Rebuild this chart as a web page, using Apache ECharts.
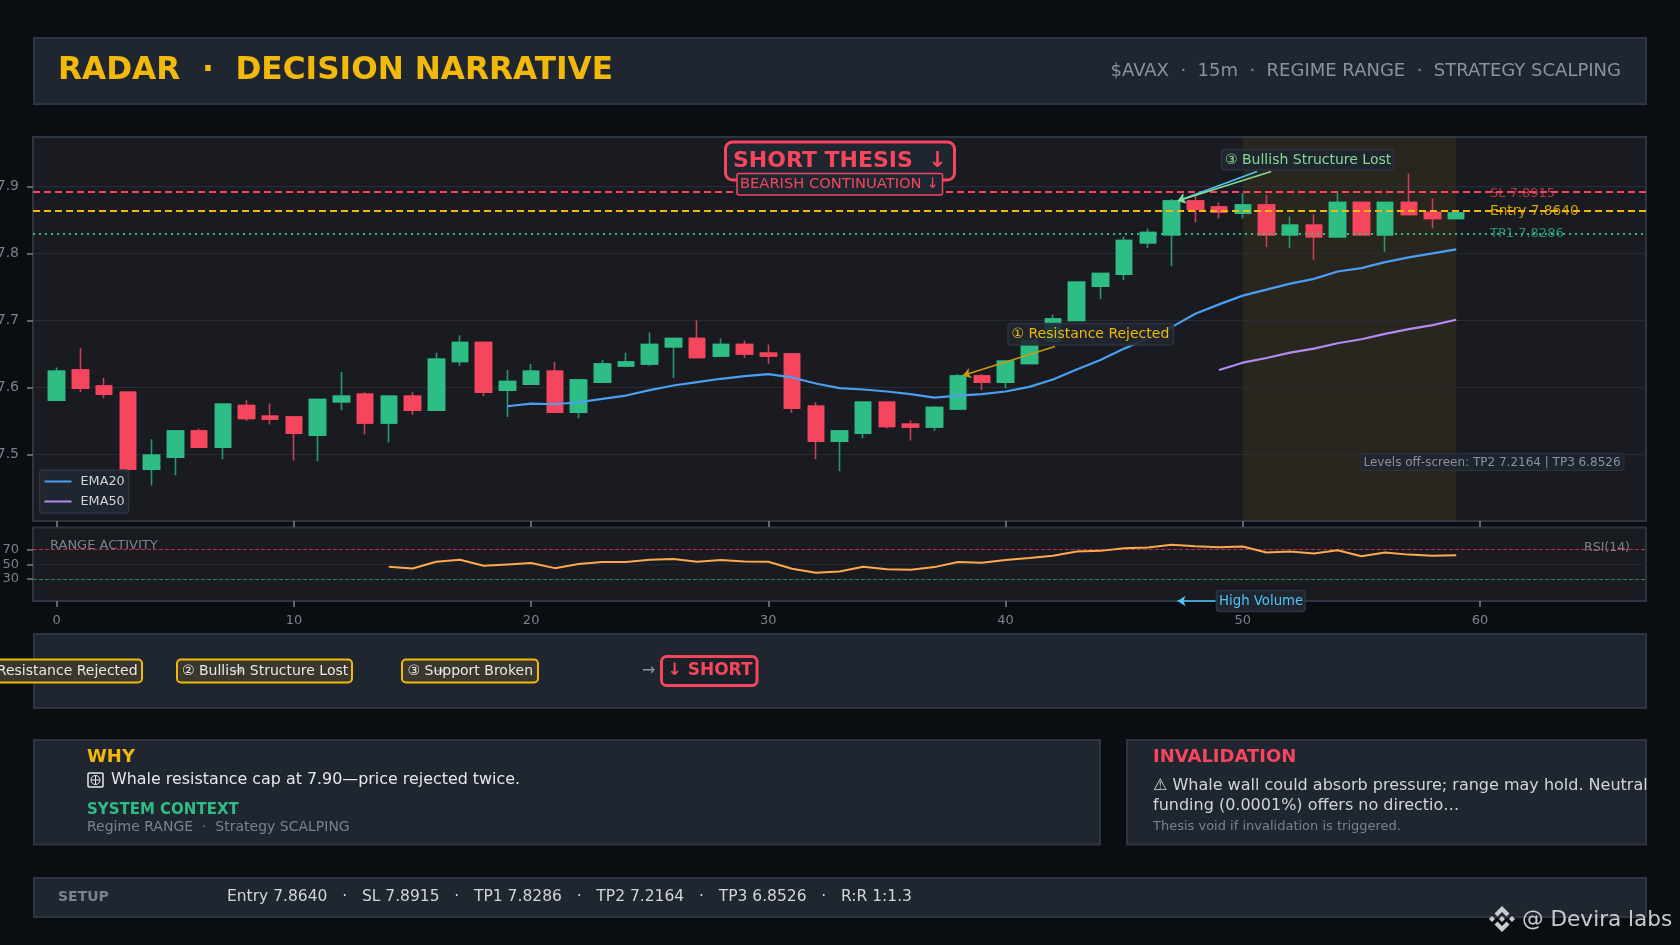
<!DOCTYPE html>
<html>
<head>
<meta charset="utf-8">
<style>html,body{margin:0;padding:0;background:#0a0e12;overflow:hidden}#c{width:1680px;height:945px}</style>
<script src="https://cdn.jsdelivr.net/npm/echarts@6/dist/echarts.min.js"></script>
</head>
<body>
<div id="c"></div>
<script>
// ---- data ----
const opens  = [7.581,7.626,7.602,7.593,7.478,7.496,7.535,7.511,7.573,7.557,7.556,7.529,7.579,7.590,7.547,7.587,7.566,7.639,7.667,7.596,7.605,7.624,7.563,7.608,7.632,7.635,7.661,7.673,7.647,7.664,7.651,7.650,7.572,7.520,7.532,7.578,7.545,7.541,7.568,7.617,7.608,7.636,7.669,7.700,7.751,7.769,7.816,7.828,7.878,7.869,7.860,7.872,7.828,7.842,7.825,7.876,7.828,7.876,7.861,7.852];
const closes = [7.624,7.599,7.590,7.478,7.499,7.535,7.511,7.575,7.554,7.553,7.532,7.582,7.587,7.547,7.587,7.566,7.642,7.667,7.593,7.609,7.624,7.563,7.611,7.635,7.638,7.664,7.673,7.645,7.664,7.650,7.647,7.569,7.520,7.535,7.578,7.542,7.541,7.570,7.617,7.608,7.639,7.670,7.702,7.757,7.770,7.819,7.831,7.878,7.866,7.862,7.872,7.828,7.842,7.825,7.876,7.828,7.876,7.858,7.852,7.860];
const lows   = [7.581,7.593,7.584,7.469,7.454,7.469,7.511,7.493,7.550,7.545,7.491,7.490,7.566,7.530,7.518,7.559,7.566,7.632,7.587,7.556,7.605,7.563,7.554,7.608,7.632,7.632,7.614,7.645,7.647,7.644,7.635,7.562,7.493,7.475,7.524,7.539,7.521,7.535,7.568,7.596,7.599,7.636,7.669,7.699,7.732,7.760,7.808,7.781,7.846,7.852,7.852,7.809,7.808,7.790,7.825,7.828,7.802,7.858,7.837,7.852];
const highs  = [7.630,7.659,7.614,7.593,7.523,7.535,7.539,7.575,7.581,7.576,7.556,7.582,7.623,7.593,7.587,7.593,7.652,7.678,7.667,7.626,7.635,7.638,7.611,7.641,7.652,7.682,7.673,7.700,7.673,7.670,7.664,7.651,7.578,7.535,7.579,7.578,7.551,7.572,7.620,7.620,7.639,7.670,7.709,7.757,7.770,7.825,7.837,7.881,7.887,7.876,7.890,7.887,7.855,7.858,7.890,7.876,7.876,7.919,7.882,7.860];
const ema20Start = 19;
const ema20 = [7.572,7.576,7.575,7.578,7.583,7.588,7.596,7.603,7.608,7.613,7.617,7.620,7.615,7.606,7.599,7.597,7.594,7.590,7.585,7.588,7.590,7.594,7.601,7.612,7.627,7.641,7.658,7.673,7.690,7.710,7.724,7.737,7.746,7.755,7.762,7.773,7.778,7.787,7.794,7.800,7.806];
const ema50Start = 49;
const ema50 = [7.626,7.637,7.644,7.652,7.658,7.666,7.672,7.680,7.687,7.693,7.701];
const rsiStart = 14;
const rsi = [46.6,44.3,53.4,56.2,47.9,49.8,51.6,44.7,50.2,53.0,53.0,56.2,57.1,53.4,55.7,53.9,53.4,43.8,38.3,40.1,46.6,43.3,42.4,46.1,53.0,52.1,55.7,58.5,61.7,67.2,68.2,71.8,72.8,76.4,74.6,73.2,74.1,65.9,67.2,64.5,69.1,60.8,65.9,63.1,61.7,62.2];
const xTicks = [0,10,20,30,40,50,60];
const priceTicks = [7.5,7.6,7.7,7.8,7.9];
const rsiTicks = [30,50,70];
const SL = 7.8915, ENTRY = 7.8640, TP1 = 7.8286;

// ---- palette ----
const GREEN='#2ebd85', RED='#f6465d', GOLD='#f0b90b', CYAN='#4fc3f7', LIME='#86d993';
const PANEL='#202630', EDGE='#2e3542', PLOT='#191b21', MUTED='#7b828c', FONT='"DejaVu Sans"';

const xs = opens.map((_,i)=>i);
const candleData = xs.map(i=>[i,opens[i],closes[i],lows[i],highs[i]]);
const bodyData = xs.map(i=>[i,opens[i],closes[i],Math.min(opens[i],closes[i]),Math.max(opens[i],closes[i])]);
const from = (arr,start)=>arr.map((v,i)=>[start+i,v]);

function panel(x,y,w,h){return {type:'rect',z:1,shape:{x:x+1,y:y+1,width:w-2,height:h-2},style:{fill:PANEL,stroke:EDGE,lineWidth:2}};}
function txt(t,x,y,size,fill,o){o=o||{};return {type:'text',z:o.z||10,x:x,y:y+1.2,style:{text:t,fill:fill,font:(o.bold?'bold ':'')+size+'px '+FONT,align:o.align||'left',verticalAlign:'middle',opacity:o.opacity==null?1:o.opacity}};}
function box(x,y,w,h,fill,stroke,lw,r,z,op){return {type:'rect',z:z||9,shape:{x:x,y:y,width:w,height:h,r:r||0},style:{fill:fill,stroke:stroke,lineWidth:lw,opacity:op==null?1:op}};}
function poly(pts,z){return {type:'polygon',z:z||20,shape:{points:pts},style:{fill:'#c9ccd1'}};}

const lx=1502, ly=919; // watermark logo centre
const graphics = [
  panel(33,37,1614,68),
  txt('RADAR  ·  DECISION NARRATIVE',58,69.5,31.2,GOLD,{bold:true}),
  txt('$AVAX  ·  15m  ·  REGIME RANGE  ·  STRATEGY SCALPING',1621,70.5,18,'#8b929c',{align:'right'}),
  // chips panel
  panel(33,633,1614,76),
  box(-70,659.5,212,23,'#3a382c',GOLD,2,4),
  txt('① Resistance Rejected',137.6,670,14,'#e5e7eb',{align:'right'}),
  box(177,659.5,175,23,'#3a382c',GOLD,2,4),
  txt('② Bullish Structure Lost',182,670,14,'#e5e7eb'),
  txt('→',232,670,13,'#9aa0a8',{z:9}),
  box(402,659.5,136,23,'#3a382c',GOLD,2,4),
  txt('③ Support Broken',407.5,670,14,'#e5e7eb'),
  txt('→',433,670,13,'#9aa0a8',{z:9}),
  txt('→',642,670,16,'#8b929c'),
  box(661.5,656.5,95.5,29,'#1b2029',RED,3,5),
  txt('↓ SHORT',667.5,669.5,17,RED,{bold:true}),
  // why
  panel(33,739,1068,106.5),
  txt('WHY',87,756.5,18,GOLD,{bold:true}),
  box(88,773,15,14,'#202630','#e5e7eb',1.5,1),
  {type:'circle',z:11,shape:{cx:95.5,cy:780,r:4.5},style:{fill:'none',stroke:'#e5e7eb',lineWidth:1}},
  {type:'line',z:11,shape:{x1:91,y1:780,x2:100,y2:780},style:{stroke:'#e5e7eb',lineWidth:1}},
  {type:'line',z:11,shape:{x1:95.5,y1:775.5,x2:95.5,y2:784.5},style:{stroke:'#e5e7eb',lineWidth:1}},
  txt('Whale resistance cap at 7.90—price rejected twice.',111,778.5,15.9,'#e5e7eb'),
  txt('SYSTEM CONTEXT',87,809,15,GREEN,{bold:true}),
  txt('Regime RANGE  ·  Strategy SCALPING',87,826,14,MUTED),
  // invalidation
  panel(1126,739,521,106.5),
  txt('INVALIDATION',1153,756.5,18,RED,{bold:true}),
  txt('⚠ Whale wall could absorb pressure; range may hold. Neutral',1153,785,16,'#d1d4dc'),
  txt('funding (0.0001%) offers no directio…',1153,804.5,16,'#d1d4dc'),
  txt('Thesis void if invalidation is triggered.',1153,825.5,13,MUTED),
  // setup
  panel(33,877,1614,41),
  txt('SETUP',58,896,14,MUTED,{bold:true}),
  txt('Entry 7.8640   ·   SL 7.8915   ·   TP1 7.8286   ·   TP2 7.2164   ·   TP3 6.8526   ·   R:R 1:1.3',227,896,15.5,'#d1d4dc'),
  // watermark
  poly([[lx,ly-13],[lx+7.5,ly-5.5],[lx+4.5,ly-2.5],[lx,ly-7],[lx-4.5,ly-2.5],[lx-7.5,ly-5.5]]),
  poly([[lx,ly+13],[lx+7.5,ly+5.5],[lx+4.5,ly+2.5],[lx,ly+7],[lx-4.5,ly+2.5],[lx-7.5,ly+5.5]]),
  poly([[lx,ly-3],[lx+3,ly],[lx,ly+3],[lx-3,ly]]),
  poly([[lx-10,ly-3],[lx-7,ly],[lx-10,ly+3],[lx-13,ly]]),
  poly([[lx+10,ly-3],[lx+13,ly],[lx+10,ly+3],[lx+7,ly]]),
  txt('@ Devira labs',1522,919.5,21.6,'#c9ccd1',{z:20}),
  // chart annotations
  box(725.5,142,229,38,PANEL,RED,3,7,30),
  txt('SHORT THESIS  ↓',733,160,22,RED,{bold:true,z:31}),
  box(737,173.5,205.5,21.5,PANEL,RED,1.5,2,32),
  txt('BEARISH CONTINUATION ↓',740,182.5,14.7,RED,{z:33}),
  box(1008,323.5,165.5,21.5,PANEL,EDGE,1.5,3,30,0.88),
  txt('① Resistance Rejected',1011.5,333.5,14,GOLD,{z:31}),
  box(1221.5,149.5,172,20.5,PANEL,EDGE,1.5,3,30,0.88),
  txt('③ Bullish Structure Lost',1225,159,14,LIME,{z:31}),
  box(1216.5,590.5,88.5,21,PANEL,EDGE,1.5,3,30),
  txt('High Volume',1219,600.5,13.3,CYAN,{z:31}),
  box(1361,453.5,263,17,PANEL,EDGE,1,2,30,0.85),
  txt('Levels off-screen: TP2 7.2164 | TP3 6.8526',1363.5,461.5,12,'#8b929c',{z:31}),
  txt('SL 7.8915',1490,192,13,RED,{z:1,opacity:.7}),
  txt('Entry 7.8640',1490,210,13.7,GOLD,{z:1,opacity:.85}),
  txt('TP1 7.8286',1490,232.5,13,GREEN,{z:1,opacity:.75}),
  txt('RANGE ACTIVITY',50,544,13,MUTED,{z:31}),
  txt('RSI(14)',1630,547,12.5,MUTED,{align:'right',z:31})
];

function levelLine(v,color,type,w){return {yAxis:v,lineStyle:{color:color,type:type,width:w}};}
function arrow(x1,y1,x2,y2,color){return [{coord:[x1,y1],symbol:'none',lineStyle:{color:color,width:1.6,type:'solid'}},{coord:[x2,y2],symbol:'arrow',symbolSize:8}];}

const option = {
  backgroundColor:'#0a0e12',
  animation:false,
  textStyle:{fontFamily:FONT},
  grid:[
    {left:33,top:137,width:1613,height:384,show:true,outerBoundsMode:'none',containLabel:false,backgroundColor:PLOT,borderColor:EDGE,borderWidth:2},
    {left:33,top:527.5,width:1613,height:73.5,show:true,outerBoundsMode:'none',containLabel:false,backgroundColor:PLOT,borderColor:EDGE,borderWidth:2}
  ],
  xAxis:[
    {type:'value',gridIndex:0,min:-1,max:67,splitLine:{show:false},axisLine:{show:false,onZero:false},
     axisTick:{length:6,lineStyle:{color:MUTED,width:1.5},customValues:xTicks},axisLabel:{show:false}},
    {type:'value',gridIndex:1,min:-1,max:67,splitLine:{show:false},axisLine:{show:false,onZero:false},
     axisTick:{length:6,lineStyle:{color:MUTED,width:1.5},customValues:xTicks},
     axisLabel:{color:MUTED,fontSize:13,margin:13,customValues:xTicks,fontFamily:FONT}}
  ],
  yAxis:[
    {type:'value',gridIndex:0,min:7.4009,max:7.9736,axisLine:{show:false,onZero:false},
     splitLine:{show:false},
     axisTick:{length:6,lineStyle:{color:MUTED,width:1.5},customValues:priceTicks},
     axisLabel:{color:MUTED,fontSize:14,margin:14,padding:[5,0,0,0],customValues:priceTicks,fontFamily:FONT,formatter:v=>v.toFixed(1)}},
    {type:'value',gridIndex:1,min:0,max:100,axisLine:{show:false,onZero:false},splitLine:{show:false},
     axisTick:{length:6,lineStyle:{color:MUTED,width:1.5},customValues:rsiTicks},
     axisLabel:{color:MUTED,fontSize:13,margin:14,padding:[5,0,0,0],customValues:rsiTicks,fontFamily:FONT}}
  ],
  legend:{
    left:39.5,top:470,orient:'vertical',data:['EMA20','EMA50'],icon:'rect',itemWidth:27,itemHeight:2,itemGap:7,
    padding:[5,4,5,5],backgroundColor:PANEL,borderColor:EDGE,borderWidth:1.5,borderRadius:3,
    textStyle:{color:'#d1d4dc',fontSize:12.8,fontFamily:FONT,padding:[0,0,0,4]},selectedMode:false
  },
  graphic:{elements:graphics},
  series:[
    {name:'grid',type:'line',xAxisIndex:0,yAxisIndex:0,data:[],silent:true,z:1,symbol:'none',
     markLine:{silent:true,z:1,symbol:'none',label:{show:false},
       data:priceTicks.map(v=>levelLine(v,'#2a2c33','solid',1.2))},
     markArea:{silent:true,z:1,itemStyle:{color:'rgba(240,185,11,0.07)'},data:[[{xAxis:50},{xAxis:59}]]}},
    {name:'candles',type:'candlestick',xAxisIndex:0,yAxisIndex:0,z:2,barWidth:16,data:candleData,encode:{x:0,y:[1,2,3,4]},
     itemStyle:{color:GREEN,color0:RED,borderColor:'#27996f',borderColor0:'#c93f55',borderWidth:1.6}},
    {name:'bodies',type:'candlestick',xAxisIndex:0,yAxisIndex:0,z:3,barWidth:16,data:bodyData,encode:{x:0,y:[1,2,3,4]},
     itemStyle:{color:GREEN,color0:RED,borderColor:GREEN,borderColor0:RED,borderWidth:1.6}},
    {name:'EMA20',type:'line',xAxisIndex:0,yAxisIndex:0,z:4,data:from(ema20,ema20Start),symbol:'none',
     lineStyle:{color:'#4a9ff0',width:2.2},itemStyle:{color:'#4a9ff0'}},
    {name:'EMA50',type:'line',xAxisIndex:0,yAxisIndex:0,z:4,data:from(ema50,ema50Start),symbol:'none',
     lineStyle:{color:'#b18cf0',width:2.2},itemStyle:{color:'#b18cf0'}},
    {name:'levels',type:'line',xAxisIndex:0,yAxisIndex:0,z:5,data:[],symbol:'none',
     markLine:{silent:true,z:5,precision:4,symbol:'none',label:{show:false},data:[
       levelLine(SL,RED,[7,4],2),levelLine(ENTRY,GOLD,[7,4],2),levelLine(TP1,GREEN,[2,4],2)]}},
    {name:'arrows',type:'line',xAxisIndex:0,yAxisIndex:0,z:6,data:[],symbol:'none',
     markLine:{silent:true,z:6,precision:4,label:{show:false},data:[
       arrow(42.08,7.661,38.2,7.618,'#c99a10'),
       arrow(50.6,7.922,47.25,7.878,CYAN),
       arrow(51.2,7.922,47.25,7.878,LIME)]}},
    {name:'RSI',type:'line',xAxisIndex:1,yAxisIndex:1,z:4,data:from(rsi,rsiStart),symbol:'none',
     lineStyle:{color:'#ffa94d',width:2},itemStyle:{color:'#ffa94d'},
     markLine:{silent:true,z:3,symbol:'none',label:{show:false},data:[
       {yAxis:70,lineStyle:{color:'#b8304a',type:[4,2],width:1.2}},
       {yAxis:50,lineStyle:{color:'#24272e',type:'solid',width:1.2}},
       {yAxis:30,lineStyle:{color:'#1f8a63',type:[4,2],width:1.2}},
       arrow(48.85,0,47.25,0,CYAN)]}}
  ]
};
const chart = echarts.init(document.getElementById('c'),null,{width:1680,height:945,renderer:'canvas'});
chart.setOption(option);
</script>
</body>
</html>
